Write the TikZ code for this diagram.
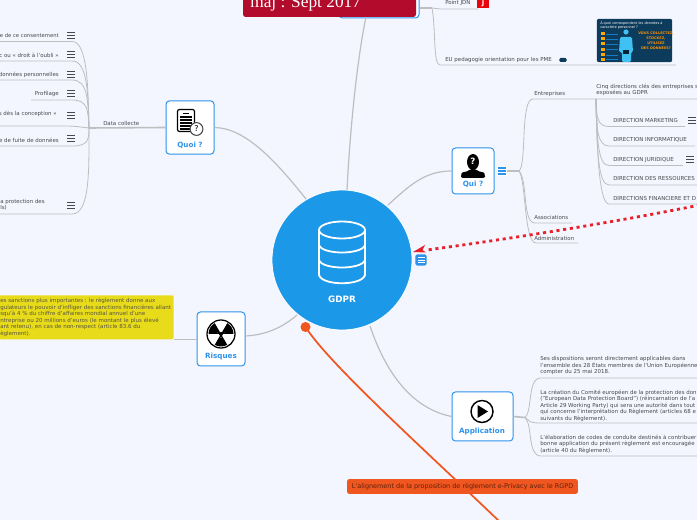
\documentclass[tikz,border=0pt]{standalone}
\usepackage{fontspec}
\setmainfont{DejaVu Sans}
\newfontfamily\serifface{Liberation Serif}
\definecolor{pagebg}{HTML}{F3F6FE}
\definecolor{cardblue}{HTML}{2E93EC}
\definecolor{hubblue}{HTML}{1B98E8}
\definecolor{linegray}{HTML}{BDBEC0}
\definecolor{txtgray}{HTML}{47494D}
\definecolor{crimson}{HTML}{B20B2B}
\definecolor{dotred}{HTML}{E8202C}
\definecolor{orangeish}{HTML}{F0561F}
\definecolor{yellowish}{HTML}{E8DC1A}
\definecolor{navyimg}{HTML}{0C3B5C}
\newcommand{\tinyf}{\fontsize{4.1}{4.9}\selectfont}
\tikzset{
  lbl/.style={inner sep=0pt,text=txtgray,font=\tinyf,anchor=west,align=left},
  lblr/.style={lbl,anchor=east,align=right},
  link/.style={draw=linegray,line width=0.9pt},
  under/.style={draw=linegray,line width=0.6pt},
  cardbox/.style={draw=cardblue,fill=white,rounded corners=2.6pt,line width=0.75pt,inner sep=0pt},
  cardtxt/.style={inner sep=0pt,text=cardblue,font=\fontsize{5.4}{6}\selectfont\bfseries},
  menuicon/.pic={\foreach \yy in {-3,0,3}{\draw[txtgray,line width=0.75pt] (-4,\yy) -- (4,\yy);}}
}
\begin{document}
\begin{tikzpicture}[x=0.75pt,y=-0.75pt]
\useasboundingbox (0,0) rectangle (697,520);
\clip (0,0) rectangle (697,520);
\fill[pagebg] (0,0) rectangle (697,520);

% ---------- main nodes
\node[circle,fill=hubblue,draw=white,line width=0.6pt,minimum size=105pt,inner sep=0pt] (hub) at (342,260) {};
\node[cardbox,minimum width=36pt,minimum height=40pt] (quoi) at (190,127.5) {};
\node[cardbox,minimum width=31.5pt,minimum height=34.5pt] (qui) at (473,171) {};
\node[cardbox,minimum width=36pt,minimum height=40.5pt] (risques) at (221,339) {};
\node[cardbox,minimum width=45.75pt,minimum height=36.75pt] (appli) at (482.5,416.5) {};
\node[cardbox,minimum width=60pt,minimum height=27pt] (topcard) at (379,0) {};

% ---------- hub connectors
\coordinate (quoiIn) at (306,199);
\coordinate (quiIn) at (388,205);
\coordinate (riskIn) at (297,315);
\coordinate (appIn) at (370,326);
\coordinate (topIn) at (347,190);
\coordinate (topOut) at (366,17);
\draw[link] (quoi.east) .. controls (245,128) and (275,160) .. (quoiIn);
\draw[link] (quiIn) .. controls (410,185) and (425,171) .. (qui.west);
\draw[link] (risques.east) ++(0,-3) .. controls (265,335) and (282,328) .. (riskIn);
\draw[link] (appIn) .. controls (390,385) and (420,410) .. (appli.west);
\draw[link] (topIn) .. controls (350,130) and (357,60) .. (topOut);

% ---------- top
\fill[crimson,rounded corners=2pt] (243,-10) rectangle (416,17);
\node[inner sep=0pt,anchor=west,text=white,font=\serifface\fontsize{13}{14}\selectfont] (majtxt) at (250,3.5) {maj : Sept 2017};
\coordinate (topFork) at (432,8);
\coordinate (jdnL) at (440,9);
\coordinate (jdnR) at (478,9);
\coordinate (euL) at (440,65);
\coordinate (euR) at (676,65);
\draw[link,line width=1.3pt] (topcard.east |- topFork) -- (topFork);
\draw[under] (topFork) .. controls (436,8) and (436,9) .. (jdnL) -- (jdnR);
\draw[under] (topFork) .. controls (436,30) and (433,65) .. (euL) -- (euR);
\node[lbl] (jdn) at (445,3) {Point JDN};
\node[fill=crimson!30!red,minimum width=9pt,minimum height=8pt,inner sep=0pt] (jdnicon) at (483,3) {};
\node[inner sep=0pt,text=white,font=\bfseries\fontsize{5}{5}\selectfont] (jdnmark) at (483,3.5) {J};
\node[lbl] (eu) at (445,60) {EU pedagogie orientation pour les PME};
\node[fill=navyimg,rounded corners=1pt,minimum width=5.5pt,minimum height=3pt,inner sep=0pt] (euicon) at (563,60) {};
% infographic
\node[fill=navyimg,rounded corners=1.5pt,minimum width=56.5pt,minimum height=32.5pt,inner sep=0pt] (info) at (634.5,40.5) {};
\node[inner sep=0pt,anchor=west,align=left,text=white,font=\fontsize{2.6}{3.2}\selectfont] (infot) at (600,25) {À quoi correspondent les données à\\caractère personnel ?};
\foreach \yy in {34,39,44,49.5,55,59.5}{\fill[orange!70!yellow] (601,\yy-1.5) rectangle (605,\yy+1.5); \fill[cyan!60!blue] (606,\yy-0.3) rectangle (618,\yy+0.3);}
\fill[cyan!75!white] (626,32) circle (2.6);
\fill[cyan!75!white,rounded corners=1pt] (620,37) -- (632,37) -- (633,52) -- (631,52) -- (631,62) -- (622,62) -- (622,52) -- (619,52) -- cycle;
\fill[navyimg!60!black] (623,50) rectangle (629,54);
\node[inner sep=0pt,align=center,text=orange!85!yellow,font=\bfseries\fontsize{2.6}{3.7}\selectfont] (infoo) at (656,41) {VOUS COLLECTEZ,\\STOCKEZ,\\UTILISEZ\\DES DONNÉES?};

% ---------- Quoi
\coordinate (quoiFork) at (89,128);
\draw[link,line width=1.2pt] (quoi.west) -- (quoiFork);
\node[lbl] (data) at (103,123) {Data collecte};
\draw[under] (quoiFork) .. controls (88,90) and (88,41.5) .. (72,41.5) -- (0,41.5);
\draw[under] (quoiFork) .. controls (88,95) and (88,61) .. (72,61) -- (0,61);
\draw[under] (quoiFork) .. controls (88,100) and (88,80) .. (72,80) -- (0,80);
\draw[under] (quoiFork) .. controls (88,110) and (88,100) .. (72,100) -- (31,100);
\draw[under] (quoiFork) .. controls (80,127) and (75,126) .. (65,126) -- (0,126);
\draw[under] (quoiFork) .. controls (89,140) and (88,146) .. (72,146) -- (0,146);
\draw[under] (quoiFork) .. controls (89,170) and (90,214) .. (72,214) -- (0,214);
\node[lblr,font=\fontsize{3.95}{4.9}\selectfont] (a1) at (59,36) {e de ce consentement};
\node[lblr] (a2) at (59,55) {c ou « droit à l'oubli »};
\node[lblr] (a3) at (59,75) {données personnelles};
\node[lblr] (a4) at (59,94) {Profilage};
\node[lblr] (a5) at (57,113.5) {s dès la conception »};
\node[lblr] (a6) at (59,140) {e de fuite de données};
\node[lbl,anchor=north west] (a7) at (0,199) {a protection des\\ls)};
\foreach \xx/\yy in {71/36,71/55,71/75,71/94,71/116,71/139,71/206}{\pic at (\xx,\yy) {menuicon};}
% doc icon
\draw[black,line width=0.9pt,rounded corners=1.5pt,fill=white] (177.5,109.5) rectangle (194.5,131.5);
\draw[black,line width=0.7pt] (183,113.5) -- (189,113.5);
\foreach \yy in {117,120,123,126,129}{\draw[black,line width=1pt] (180,\yy) -- (192,\yy);}
\node[circle,draw=txtgray,fill=white,line width=0.8pt,minimum size=9.6pt,inner sep=0pt,font=\fontsize{6}{6}\selectfont] (qmark) at (196.5,129) {?};
\node[cardtxt] (quoil) at (190,145) {Quoi ?};

% ---------- Qui
\node[fill=white,minimum width=7.5pt,minimum height=8pt,inner sep=0pt] (quimenubg) at (501.5,171) {};
\coordinate (quiFork) at (519,171);
\draw[link,line width=1.2pt] (quimenubg.east) -- (quiFork);
\foreach \yy in {-3,0,3}{\draw[cardblue,line width=0.9pt] (497.5,171+\yy) -- (505.5,171+\yy);}
\draw[under] (quiFork) .. controls (527,165) and (520,99) .. (533,99) -- (697,99);
\draw[under] (quiFork) .. controls (528,180) and (522,223) .. (535,223) -- (572,223);
\draw[under] (quiFork) .. controls (526,180) and (524,243) .. (536,243) -- (578,243);
\node[lbl] (entr) at (534,93.5) {Entreprises};
\node[lbl] (assoc) at (534,217.5) {Associations};
\node[lbl] (admin) at (534,238) {Administration};
\node[lbl,anchor=north west] (cinq) at (596,83.5) {Cinq directions clés des entreprises s\\exposées au GDPR};
\coordinate (dirFork) at (596,99);
\draw[under,line width=0.9pt] (dirFork) -- (597,125);
\draw[under] (dirFork) .. controls (596,118) and (598,126.5) .. (609,126.5) -- (685,126.5);
\draw[under] (dirFork) .. controls (596,130) and (598,146) .. (609,146) -- (695,146);
\draw[under] (dirFork) .. controls (597,140) and (598,165.5) .. (609,165.5) -- (683,165.5);
\draw[under] (dirFork) .. controls (597,150) and (598,185) .. (609,185) -- (697,185);
\draw[under] (dirFork) .. controls (597,160) and (600,204) .. (609,204) -- (697,204);
\node[lbl] (d1) at (613,121) {DIRECTION MARKETING};
\node[lbl] (d2) at (613,140) {DIRECTION INFORMATIQUE};
\node[lbl] (d3) at (613,160) {DIRECTION JURIDIQUE};
\node[lbl] (d4) at (613,179) {DIRECTION DES RESSOURCES};
\node[lbl] (d5) at (613,198.5) {DIRECTIONS FINANCIERE ET D};
\pic at (692,121) {menuicon};
\pic at (690,160) {menuicon};
% silhouette
\fill[black] (473,162) ellipse (6 and 8);
\fill[black,rounded corners=1.5pt] (461,178) -- (461,175) .. controls (462,172) and (467,172) .. (470,169) -- (476,169) .. controls (479,172) and (484,172) .. (485,175) -- (485,178) -- cycle;
\node[inner sep=0pt,text=white,font=\bfseries\fontsize{6.5}{7}\selectfont] (quiq) at (473,161.5) {?};
\node[cardtxt] (quil) at (473,184.5) {Qui ?};

% ---------- Risques
\node[fill=yellowish,rounded corners=1.5pt,minimum width=134pt,minimum height=33pt,inner sep=0pt,anchor=north east] (yellow) at (174,295) {};
\draw[link] (yellow.south east) -- (risques.west |- yellow.south east);
\node[inner sep=0pt,anchor=north west,align=left,text=black!75!yellow,font=\fontsize{4.15}{4.9}\selectfont] (ytxt) at (0,298) {es sanctions plus importantes : le règlement donne aux\\gulateurs le pouvoir d'infliger des sanctions financières allant\\squ'à 4 \% du chiffre d'affaires mondial annuel d'une\\ntreprise ou 20 millions d'euros (le montant le plus élevé\\ant retenu), en cas de non-respect (article 83.6 du\\èglement).};
% radiation icon
\draw[black,line width=0.95pt] (221,334) circle (14);
\foreach \aa in {90,210,330}{\fill[black] (221,334) ++(\aa-30:4) -- ++(\aa-30:8.5) arc[start angle=\aa-30,end angle=\aa+30,radius=12.5] -- (221,334) ++(\aa+30:4) arc[start angle=\aa+30,end angle=\aa-30,radius=4] -- cycle;}
\fill[black] (221,334) circle (2);
\node[cardtxt] (risql) at (221,356.5) {Risques};

% ---------- Application
\coordinate (appFork) at (525,417.5);
\draw[link,line width=1.2pt] (appli.east) -- (appFork);
\draw[under] (appFork) .. controls (533,410) and (527,378) .. (541,378) -- (697,378);
\draw[under] (appFork) .. controls (530,420) and (527,423) .. (541,423) -- (697,423);
\draw[under] (appFork) .. controls (533,425) and (527,456) .. (541,456) -- (697,456);
\node[lbl,anchor=north west] (p1) at (540,356.5) {Ses dispositions seront directement applicables dans\\l'ensemble des 28 États membres de l'Union Européenne\\compter du 25 mai 2018.};
\node[lbl,anchor=north west] (p2) at (540,389.5) {La création du Comité européen de la protection des don\\("European Data Protection Board") (réincarnation de l'a\\Article 29 Working Party) qui sera une autorité dans tout\\qui concerne l'interprétation du Règlement (articles 68 e\\suivants du Règlement).};
\node[lbl,anchor=north west] (p3) at (540,434.5) {L'élaboration de codes de conduite destinés à contribuer\\bonne application du présent règlement est encouragée\\(article 40 du Règlement).};
\draw[black,line width=1.1pt] (482,411.5) circle (11);
\fill[black] (477.5,405) -- (488,411.5) -- (477.5,418) -- cycle;
\node[cardtxt] (appl) at (482,432) {Application};

% ---------- hub icon
\begin{scope}[draw=white,line width=1.35pt]
\draw (342,230) ellipse (23 and 8.5);
\draw (319,230) -- (319,275) .. controls (322,286) and (362,286) .. (365,275) -- (365,230);
\draw (319,245) .. controls (322,255) and (362,255) .. (365,245);
\draw (319,260) .. controls (322,270) and (362,270) .. (365,260);
\end{scope}
\node[inner sep=0pt,text=white,font=\bfseries\fontsize{6.6}{7}\selectfont] (gdpr) at (342,299) {GDPR};

% ---------- note icon + red link
\node[fill=cardblue,rounded corners=1.2pt,minimum width=8.5pt,minimum height=8.5pt,inner sep=0pt] (note) at (421,260) {};
\foreach \yy in {-2.5,0,2.5}{\draw[white,line width=0.45pt] (417.5,260+\yy) -- (424.5,260+\yy);}
\coordinate (redfar) at (700,205);
\coordinate (redtip) at (413,252);
\coordinate (redbase) at (427,250);
\draw[dotred,line width=2.1pt,dash pattern=on 2.3pt off 2.8pt] (redfar) .. controls (600,225) and (500,240) .. (redbase);
\fill[dotred] (redtip) -- (425,245) -- (422.5,250) -- (426,252.5) -- cycle;

% ---------- orange link
\fill[orangeish] (305.5,327) circle (5);
\coordinate (orStart) at (305.5,327);
\coordinate (orEnd) at (500,522);
\draw[orangeish,line width=1.3pt] (orStart) .. controls (330,365) and (425,450) .. (orEnd);
\node[fill=orangeish,rounded corners=1.5pt,minimum width=173pt,minimum height=11pt,inner sep=0pt] (orbox) at (462.5,486.5) {};
\node[inner sep=0pt,text=black!60!orangeish,font=\fontsize{4.85}{5}\selectfont] (ortxt) at (462.5,486.5) {L'alignement de la proposition de règlement e-Privacy avec le RGPD};
\end{tikzpicture}
\end{document}
